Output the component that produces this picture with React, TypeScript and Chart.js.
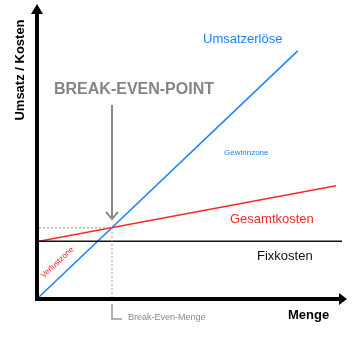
import React, { useEffect, useRef } from "react";
import { Chart, registerables } from "chart.js";

Chart.register(...registerables);

// Data (Menge on x, Euro on y, both 0..100 scale)
const mengeUmsatz = [0, 84];
const umsatzWerte = [0, 84];
const mengeGesamt = [0, 96.4];
const gesamtkostenWerte = [19, 38];
const mengeFix = [0, 98.4];
const fixkostenWerte = [19, 19];
const breakEvenMenge = 23.7;
const breakEvenWert = 23.6;
const axisMax = 100;

const BLUE = "#1f80ff";
const RED = "#ff2626";
const GRAY = "#888888";
const FONT = "'Liberation Sans', Arial, Helvetica, sans-serif";

const pts = (xs: number[], ys: number[]) => xs.map((x, i) => ({ x, y: ys[i] }));

const annotations = {
  id: "annotations",
  afterDraw(chart: any) {
    const { ctx, chartArea, scales } = chart;
    const xs = scales.x;
    const ys = scales.y;
    const L = chartArea.left;
    const B = chartArea.bottom;
    const T = chartArea.top;
    const R = chartArea.right;
    ctx.save();

    // axes
    ctx.strokeStyle = "#000";
    ctx.fillStyle = "#000";
    ctx.lineWidth = 4;
    ctx.beginPath();
    ctx.moveTo(L - 2, B + 4);
    ctx.lineTo(L - 2, T + 8);
    ctx.moveTo(L - 4, B + 2);
    ctx.lineTo(R - 5, B + 2);
    ctx.stroke();
    // arrowheads
    ctx.beginPath();
    ctx.moveTo(L - 2, T);
    ctx.lineTo(L - 8, T + 10);
    ctx.lineTo(L + 4, T + 10);
    ctx.closePath();
    ctx.fill();
    ctx.beginPath();
    ctx.moveTo(R, B + 2);
    ctx.lineTo(R - 8, B - 4);
    ctx.lineTo(R - 8, B + 8);
    ctx.closePath();
    ctx.fill();

    // break-even arrow
    const bx = xs.getPixelForValue(breakEvenMenge);
    const by = ys.getPixelForValue(breakEvenWert);
    ctx.strokeStyle = GRAY;
    ctx.lineWidth = 2;
    ctx.beginPath();
    ctx.moveTo(bx, 105);
    ctx.lineTo(bx, by - 9);
    ctx.moveTo(bx - 6, by - 16);
    ctx.lineTo(bx, by - 9);
    ctx.lineTo(bx + 6, by - 16);
    ctx.stroke();

    // bracket below x axis
    ctx.lineWidth = 1.5;
    ctx.strokeStyle = "#999";
    ctx.beginPath();
    ctx.moveTo(bx, B + 7);
    ctx.lineTo(bx, B + 22);
    ctx.lineTo(bx + 10, B + 22);
    ctx.stroke();

    ctx.textBaseline = "middle";
    ctx.textAlign = "left";
    const text = (t: string, x: number, y: number, font: string, color: string) => {
      ctx.font = font;
      ctx.fillStyle = color;
      ctx.fillText(t, x, y);
    };
    text("BREAK-EVEN-POINT", 54, 90, `bold 16px ${FONT}`, "#858585");
    text("Umsatzerlöse", 203, 39, `13px ${FONT}`, BLUE);
    text("Gewinnzone", 224, 153, `8px ${FONT}`, BLUE);
    text("Gesamtkosten", 230, 219, `13px ${FONT}`, RED);
    text("Fixkosten", 257, 256, `13px ${FONT}`, "#111");
    text("Menge", 288, 315, `bold 13px ${FONT}`, "#000");
    text("Break-Even-Menge", bx + 16, 318, `9px ${FONT}`, "#8a8a8a");

    // rotated labels
    ctx.save();
    ctx.translate(20, 70);
    ctx.rotate(-Math.PI / 2);
    ctx.textAlign = "center";
    ctx.font = `bold 13px ${FONT}`;
    ctx.fillStyle = "#000";
    ctx.fillText("Umsatz / Kosten", 0, 0);
    ctx.restore();

    ctx.save();
    ctx.translate(57.5, 262.5);
    ctx.rotate((-43 * Math.PI) / 180);
    ctx.textAlign = "center";
    ctx.font = `8px ${FONT}`;
    ctx.fillStyle = RED;
    ctx.fillText("Verlustzone", 0, 0);
    ctx.restore();

    ctx.restore();
  },
};

export default function App() {
  const ref = useRef<HTMLCanvasElement | null>(null);
  useEffect(() => {
    if (!ref.current) return;
    const chart = new Chart(ref.current, {
      type: "scatter",
      data: {
        datasets: [
          {
            data: pts([0, breakEvenMenge], [breakEvenWert, breakEvenWert]),
            borderColor: "#999",
            borderWidth: 1,
            borderDash: [2, 2],
            showLine: true,
            pointRadius: 0,
          },
          {
            data: pts([breakEvenMenge, breakEvenMenge], [breakEvenWert, 0]),
            borderColor: "#999",
            borderWidth: 1,
            borderDash: [2, 2],
            showLine: true,
            pointRadius: 0,
          },
          {
            label: "Fixkosten",
            data: pts(mengeFix, fixkostenWerte),
            borderColor: "#111",
            borderWidth: 1.5,
            showLine: true,
            pointRadius: 0,
          },
          {
            label: "Gesamtkosten",
            data: pts(mengeGesamt, gesamtkostenWerte),
            borderColor: RED,
            borderWidth: 1.5,
            showLine: true,
            pointRadius: 0,
          },
          {
            label: "Umsatzerlöse",
            data: pts(mengeUmsatz, umsatzWerte),
            borderColor: BLUE,
            borderWidth: 1.5,
            showLine: true,
            pointRadius: 0,
          },
        ],
      },
      options: {
        animation: false,
        responsive: true,
        maintainAspectRatio: false,
        layout: { padding: { left: 39, top: 4, right: 13, bottom: 63 } },
        plugins: { legend: { display: false }, tooltip: { enabled: false } },
        scales: {
          x: { type: "linear", min: 0, max: axisMax, display: false },
          y: { type: "linear", min: 0, max: axisMax, display: false },
        },
      },
      plugins: [annotations],
    });
    return () => chart.destroy();
  }, []);
  return (
    <div style={{ position: "fixed", left: 0, top: 0, width: 360, height: 360, background: "#fff" }}>
      <canvas ref={ref} />
    </div>
  );
}
